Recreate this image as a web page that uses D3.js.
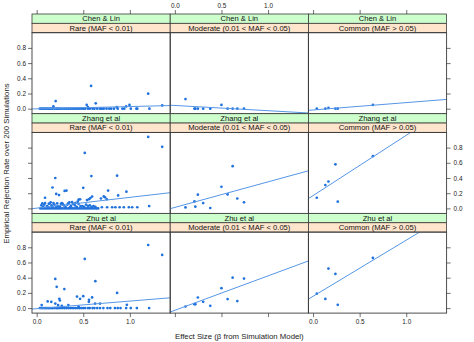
<!DOCTYPE html>
<html><head><meta charset="utf-8">
<script src="https://cdn.jsdelivr.net/npm/d3@7"></script>
<style>
html,body{margin:0;padding:0;background:#fff;}
svg{display:block;font-family:"Liberation Sans",Arial,sans-serif;}
</style></head><body>
<svg id="chart" width="474" height="342"></svg>
<script>
// ---------- data ----------
const studies = ["Chen & Lin", "Zhang et al", "Zhu et al"];
const mafClasses = ["Rare (MAF < 0.01)", "Moderate (0.01 < MAF < 0.05)", "Common (MAF > 0.05)"];
const xTicks = [0, 0.5, 1.0];
const yTicks = [0, 0.2, 0.4, 0.6, 0.8];

// Rare
const chenRareX = [0.035,0.05,0.065,0.08,0.095,0.11,0.125,0.14,0.155,0.17,0.19,0.21,0.225,0.24,0.26,0.28,0.3,0.32,0.34,0.36,0.38,0.4,0.42,0.44,0.46,0.48,0.5,0.52,0.55,0.57,0.6,0.62,0.65,0.68,0.7,0.72,0.75,0.78,0.8,0.83,0.87,0.92,0.94,1.01,1.07,1.08,1.21,
  0.18,0.204,0.537,0.584,0.634,0.86,0.96,0.996,1.197,1.347,0.55];
const chenRareY = [0,0,0,0,0,0,0,0,0,0,0,0,0,0,0,0,0,0,0,0,0,0,0,0,0,0,0,0,0,0,0,0,0,0,0,0,0,0,0,0,0,0,0,0,0,0,0,
  0.03,0.10,0.05,0.30,0.07,0.02,0.03,0.05,0.197,0.043,0.02];

const zhangRareX = [1.197,1.347,0.516,0.20,0.587,0.863,0.17,0.30,0.32,0.21,0.24,0.50,0.767,0.963,0.874,0.09,0.595,0.56,0.54,0.466,0.69,0.734,0.753,0.44,1.207,
  0.04,0.06,0.08,0.10,0.12,0.14,0.16,0.18,0.20,0.22,0.24,0.26,0.28,0.30,0.32,0.34,0.36,0.38,0.40,0.42,0.44,0.46,0.48,0.50,0.52,0.54,0.56,0.58,0.60,0.62,0.64,0.66,
  0.05,0.08,0.11,0.13,0.16,0.19,0.23,0.26,0.29,0.33,0.37,0.41,0.45,0.49,0.53,0.57,0.61,0.35,0.15,0.27,
  0.06,0.07,0.09,0.12,0.14,0.17,0.18,0.21,0.22,0.25,0.28,0.31,0.34,0.36,0.39,0.43,0.47,0.51,0.55,0.59,0.63,
  0.45,0.576,0.38,0.415,0.72,
  0.70,0.756,0.81,0.845,0.89,0.935,0.99,1.025,1.08];
const zhangRareY = [0.94,0.81,0.73,0.40,0.425,0.43,0.275,0.23,0.235,0.19,0.175,0.27,0.235,0.22,0.17,0.14,0.155,0.12,0.11,0.12,0.13,0.145,0.12,0.09,0.03,
  0,0,0,0,0,0,0,0,0,0,0,0,0,0,0,0,0,0,0,0,0,0,0,0,0,0,0,0,0,0,0,0,
  0.04,0.05,0.03,0.06,0.04,0.05,0.03,0.06,0.04,0.05,0.03,0.04,0.06,0.03,0.05,0.04,0.03,0.08,0.08,0.07,
  0.065,0.02,0.07,0.02,0.065,0.02,0.07,0.02,0.065,0.02,0.06,0.02,0.065,0.02,0.06,0.02,0.03,0.02,0.03,0.02,0.02,
  0.114,0.136,0.084,0.07,0.157,
  0.015,0.015,0.015,0.015,0.015,0.015,0.015,0.015,0.015];

const zhuRareX = [1.197,1.347,0.516,0.20,0.63,0.215,0.297,0.863,0.50,0.433,0.466,0.595,0.562,0.56,0.243,0.25,0.118,0.157,0.627,0.68,0.968,1.207,0.054,0.20,0.23,0.27,0.34,0.45,
  0.035,0.05,0.065,0.08,0.095,0.11,0.125,0.14,0.155,0.17,0.19,0.21,0.225,0.24,0.26,0.28,0.3,0.32,0.34,0.36,0.38,0.4,0.42,0.44,0.46,0.48,0.5,0.52,0.55,0.57,0.6,0.62,0.65,0.68,
  0.716,0.76,0.79,0.84,0.87,0.90,0.96,1.01,1.075];
const zhuRareY = [0.83,0.70,0.647,0.384,0.354,0.28,0.25,0.20,0.157,0.152,0.122,0.14,0.109,0.083,0.122,0.10,0.087,0.083,0.06,0.06,0.043,0,0.04,0.06,0.04,0.03,0.04,0.02,
  0,0,0,0,0,0,0,0,0,0,0,0,0,0,0,0,0,0,0,0,0,0,0,0,0,0,0,0,0,0,0,0,0,0,
  0,0,0,0,0,0,0,0,0];

// Moderate
const moderateX = [0.114,0.21,0.22,0.247,0.304,0.38,0.50,0.566,0.62,0.67,0.742];
const chenModY  = [0.127,0,0,0,0,0,0.05,0,0,0,0];
const zhangModY = [0.013,0.092,0.022,0.18,0.07,0.005,0.285,0.184,0.556,0.13,0.08];
const zhuModY   = [0.021,0.052,0.052,0.139,0.083,0.03,0.262,0.118,0.40,0.092,0.388];

// Common
const commonX = [0.04,0.132,0.165,0.24,0.265,0.642];
const chenComY  = [0,0,0.01,0,0,0.05];
const zhangComY = [0.14,0.307,0.354,0.58,0.088,0.687];
const zhuComY   = [0.19,0.12,0.52,0.45,0.043,0.66];

// fitted lines (intercept, slope)
const lineIntercepts = [[-0.002,0.0425,-0.017],[0.003,0.013,0.168],[-0.008,-0.029,0.155]];
const lineSlopes     = [[0.03,-0.069,0.097],[0.142,0.336,0.794],[0.10,0.453,0.739]];

const panelX = [[chenRareX,moderateX,commonX],[zhangRareX,moderateX,commonX],[zhuRareX,moderateX,commonX]];
const panelY = [[chenRareY,chenModY,chenComY],[zhangRareY,zhangModY,zhangComY],[zhuRareY,zhuModY,zhuComY]];

// ---------- layout ----------
const svg = d3.select("#chart");
const marginL = 32, marginT = 14, panelW = 138.2, rowH = 99.7, stripH = 9.35, plotH = rowH - 2*stripH;
const ptCol = "#1f72dd", lineCol = "#5696e6";
const stripGreen = "#ccffcc", stripOrange = "#ffe5cc", borderCol = "#3a3a3a";

const x = d3.scaleLinear().domain([-0.05, 1.433]).range([0, panelW]);
const y = d3.scaleLinear().domain([-0.066, 1.0]).range([plotH, 0]);

const defs = svg.append("defs");
defs.append("clipPath").attr("id","clip").append("rect").attr("width",panelW).attr("height",plotH);

const styleAx = (sel)=>{ sel.select(".domain").remove();
  sel.selectAll("line").attr("stroke","#333").attr("stroke-width",0.7);
  sel.selectAll("text").attr("font-size","6.4px").attr("fill","#222").attr("font-family","Liberation Sans, Arial, sans-serif"); };

for (let r = 0; r < 3; r++) {
  for (let c = 0; c < 3; c++) {
    const gx = marginL + c*panelW, gy = marginT + r*rowH;
    const g = svg.append("g").attr("transform",`translate(${gx},${gy})`);
    // strips
    g.append("rect").attr("x",0).attr("y",0).attr("width",panelW).attr("height",stripH)
      .attr("fill",stripGreen).attr("stroke",borderCol).attr("stroke-width",0.8);
    g.append("text").attr("x",panelW/2).attr("y",stripH/2+0.5).attr("text-anchor","middle")
      .attr("dominant-baseline","middle").attr("font-size","7.6px").attr("fill","#111").text(studies[r]);
    g.append("rect").attr("x",0).attr("y",stripH).attr("width",panelW).attr("height",stripH)
      .attr("fill",stripOrange).attr("stroke",borderCol).attr("stroke-width",0.8);
    g.append("text").attr("x",panelW/2).attr("y",stripH*1.5+0.5).attr("text-anchor","middle")
      .attr("dominant-baseline","middle").attr("font-size","7.6px").attr("fill","#111").text(mafClasses[c]);

    const p = g.append("g").attr("transform",`translate(0,${2*stripH})`);
    const pc = p.append("g").attr("clip-path","url(#clip)");
    const xs = panelX[r][c], ys = panelY[r][c];
    const pts = xs.map((v,i)=>({x:v,y:ys[i]}));
    pc.selectAll("circle").data(pts).enter().append("circle")
      .attr("cx",d=>x(d.x)).attr("cy",d=>y(d.y)).attr("r",1.35).attr("fill",ptCol);
    const a = lineIntercepts[r][c], b = lineSlopes[r][c];
    const xd = x.domain();
    pc.append("line").attr("x1",x(xd[0])).attr("y1",y(a+b*xd[0]))
      .attr("x2",x(xd[1])).attr("y2",y(a+b*xd[1]))
      .attr("stroke",lineCol).attr("stroke-width",1);
    p.append("rect").attr("width",panelW).attr("height",plotH).attr("fill","none")
      .attr("stroke",borderCol).attr("stroke-width",0.9);

    // axes
    if (r === 0) {
      const ax = d3.axisTop(x).tickValues(xTicks).tickSize(4).tickPadding(2)
        .tickFormat(c===1 ? d3.format(".1f") : ()=>"");
      g.append("g").call(ax).call(styleAx);
    }
    if (r === 2) {
      const ax = d3.axisBottom(x).tickValues(xTicks).tickSize(4).tickPadding(2)
        .tickFormat(c!==1 ? d3.format(".1f") : ()=>"");
      p.append("g").attr("transform",`translate(0,${plotH})`).call(ax).call(styleAx);
    }
    if (c === 0) {
      const ax = d3.axisLeft(y).tickValues(yTicks).tickSize(4).tickPadding(2)
        .tickFormat(r!==1 ? d3.format(".1f") : ()=>"");
      p.append("g").call(ax).call(styleAx);
    }
    if (c === 2) {
      const ax = d3.axisRight(y).tickValues(yTicks).tickSize(4).tickPadding(3)
        .tickFormat(r===1 ? d3.format(".1f") : ()=>"");
      p.append("g").attr("transform",`translate(${panelW},0)`).call(ax).call(styleAx);
    }
  }
}

// axis titles
const midX = marginL + 1.5*panelW;
svg.append("text").attr("x",midX).attr("y",339).attr("text-anchor","middle")
  .attr("font-size","7.8px").attr("fill","#222").text("Effect Size (β from Simulation Model)");
svg.append("text").attr("transform",`translate(9,${marginT + 1.5*rowH}) rotate(-90)`)
  .attr("text-anchor","middle").attr("font-size","7.8px").attr("fill","#222")
  .text("Empirical Rejection Rate over 200 Simulations");
</script>
</body></html>
